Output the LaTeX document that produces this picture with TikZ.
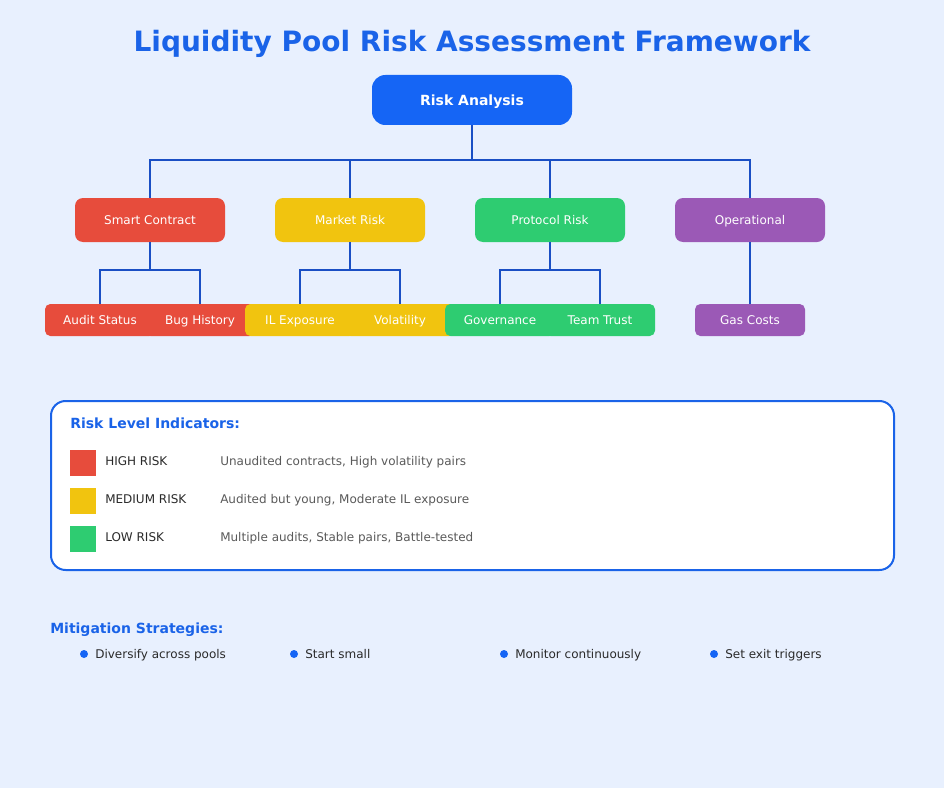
\documentclass[tikz,border=0pt]{standalone}
\usepackage{fontspec}
\setmainfont{DejaVu Sans}
\definecolor{bgblue}{HTML}{E8F0FE}
\definecolor{titleblue}{HTML}{1A63E8}
\definecolor{rootblue}{HTML}{1565F5}
\definecolor{lineblue}{HTML}{1A4FC4}
\definecolor{riskred}{HTML}{E74C3C}
\definecolor{riskyellow}{HTML}{F1C40F}
\definecolor{riskgreen}{HTML}{2ECC71}
\definecolor{riskpurple}{HTML}{9B59B6}
\definecolor{labeldark}{HTML}{2A2A2A}
\definecolor{descgray}{HTML}{5A5A5A}
\begin{document}
\begin{tikzpicture}[x=0.75pt,y=-0.75pt,
    every node/.style={text height=6.6pt, text depth=0pt},
    link/.style={draw=lineblue, line width=1.5pt},
    sublink/.style={draw=lineblue, line width=1pt},
    catbox/.style={rounded corners=6pt, minimum width=112.5pt, minimum height=33pt, inner sep=0pt, text=white, font=\fontsize{9}{11}\selectfont},
    leafbox/.style={rounded corners=4pt, minimum width=82.5pt, minimum height=24pt, inner sep=0pt, text=white, font=\fontsize{9}{11}\selectfont},
    swatch/.style={minimum width=19.5pt, minimum height=19.5pt, inner sep=0pt},
    txt/.style={anchor=west, inner sep=0pt, font=\fontsize{9}{11}\selectfont},
    head/.style={anchor=west, inner sep=0pt, text height=7.7pt, text=titleblue, font=\fontsize{10.5}{13}\selectfont\bfseries}]
            \fill[bgblue] (0,0) rectangle (944,788);
            \node[text=titleblue, text height=15.3pt, font=\fontsize{21}{25}\selectfont\bfseries] (T) at (472,41) {Liquidity Pool Risk Assessment Framework};

            \node[fill=rootblue, rounded corners=10pt, minimum width=150pt, minimum height=37.5pt, text height=7.7pt, text=white, font=\fontsize{10.5}{13}\selectfont\bfseries] (RA) at (472,100) {Risk Analysis};
            \node[catbox, fill=riskred] (SC) at (150,220) {Smart Contract};
            \node[catbox, fill=riskyellow] (MR) at (350,220) {Market Risk};
            \node[catbox, fill=riskgreen] (PR) at (550,220) {Protocol Risk};
            \node[catbox, fill=riskpurple] (OP) at (750,220) {Operational};

            \node[leafbox, fill=riskred] (AS) at (100,320) {Audit Status};
            \node[leafbox, fill=riskred] (BH) at (200,320) {Bug History};
            \node[leafbox, fill=riskyellow] (IL) at (300,320) {IL Exposure};
            \node[leafbox, fill=riskyellow] (VO) at (400,320) {Volatility};
            \node[leafbox, fill=riskgreen] (GV) at (500,320) {Governance};
            \node[leafbox, fill=riskgreen] (TT) at (600,320) {Team Trust};
            \node[leafbox, fill=riskpurple] (GC) at (750,320) {Gas Costs};

            \coordinate (J0) at (472,160);
            \coordinate (J1) at (150,270); \coordinate (J2) at (350,270); \coordinate (J3) at (550,270);

            \draw[link] (RA) to (J0); \draw[link] (J0) -| (SC); \draw[link] (J0) -| (MR); \draw[link] (J0) -| (PR); \draw[link] (J0) -| (OP);
            \draw[sublink] (SC) to (J1); \draw[sublink] (J1) -| (AS); \draw[sublink] (J1) -| (BH);
            \draw[sublink] (MR) to (J2); \draw[sublink] (J2) -| (IL); \draw[sublink] (J2) -| (VO);
            \draw[sublink] (PR) to (J3); \draw[sublink] (J3) -| (GV); \draw[sublink] (J3) -| (TT);
            \draw[sublink] (OP) to (GC);

            \node[draw=titleblue, line width=1.5pt, fill=white, rounded corners=11pt, minimum width=632.25pt, minimum height=126.75pt] (LB) at (472.5,485.5) {};
            \node[head] (LH) at (70,423) {Risk Level Indicators:};
            \node[swatch, fill=riskred] (S1) at (83,463) {};
            \node[swatch, fill=riskyellow] (S2) at (83,501) {};
            \node[swatch, fill=riskgreen] (S3) at (83,539) {};
            \node[txt, text=labeldark] (L1) at (105,461) {HIGH RISK};
            \node[txt, text=labeldark] (L2) at (105,499) {MEDIUM RISK};
            \node[txt, text=labeldark] (L3) at (105,537) {LOW RISK};
            \node[txt, text=descgray] (D1) at (220,461) {Unaudited contracts, High volatility pairs};
            \node[txt, text=descgray] (D2) at (220,499) {Audited but young, Moderate IL exposure};
            \node[txt, text=descgray] (D3) at (220,537) {Multiple audits, Stable pairs, Battle-tested};

            \node[head] (MH) at (50,628) {Mitigation Strategies:};
            \foreach \bx/\name/\lbl in {84/B1/Diversify across pools, 294/B2/Start small, 504/B3/Monitor continuously, 714/B4/Set exit triggers} {
                \fill[rootblue] (\bx,654) circle (3pt);
                \node[txt, text=labeldark] (\name) at (\bx+11,654) {\lbl};
            }
        \end{tikzpicture}
\end{document}
